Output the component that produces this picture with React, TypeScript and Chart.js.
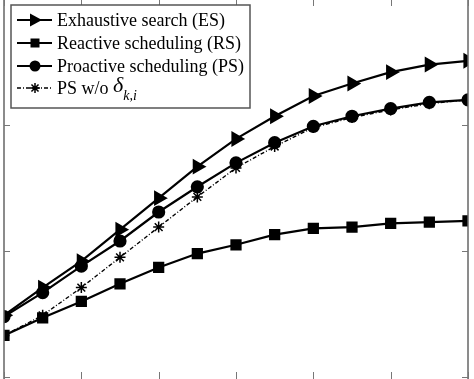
import React, { useEffect, useRef } from "react";
import { Chart, registerables } from "chart.js";

Chart.register(...registerables);

const xValues = [0, 1, 2, 3, 4, 5, 6, 7, 8, 9, 10, 11, 12];
const xTickValues = [0, 2, 4, 6, 8, 10, 12];
const yTickValues = [0, 1, 2, 3];

const esValues = [0.49, 0.71, 0.92, 1.17, 1.42, 1.67, 1.89, 2.07, 2.23, 2.33, 2.42, 2.48, 2.51];
const rsValues = [0.33, 0.47, 0.6, 0.74, 0.87, 0.98, 1.05, 1.13, 1.18, 1.19, 1.22, 1.23, 1.24];
const psValues = [0.48, 0.67, 0.88, 1.08, 1.31, 1.51, 1.7, 1.86, 1.99, 2.07, 2.13, 2.18, 2.2];
const psNoDeltaValues = [0.33, 0.49, 0.71, 0.95, 1.19, 1.43, 1.66, 1.83, 1.98, 2.06, 2.12, 2.17, 2.2];

const legendLabels = [
  "Exhaustive search (ES)",
  "Reactive scheduling (RS)",
  "Proactive scheduling (PS)",
  "PS w/o ",
];

const FONT = '"Liberation Serif", "Times New Roman", serif';

function drawMarker(ctx: CanvasRenderingContext2D, kind: string, x: number, y: number) {
  ctx.save();
  ctx.fillStyle = "#000";
  ctx.strokeStyle = "#000";
  ctx.beginPath();
  if (kind === "tri") {
    ctx.moveTo(x + 7, y);
    ctx.lineTo(x - 5, y - 6.5);
    ctx.lineTo(x - 5, y + 6.5);
    ctx.closePath();
    ctx.fill();
  } else if (kind === "sq") {
    ctx.rect(x - 4.5, y - 4.5, 9, 9);
    ctx.fill();
  } else if (kind === "circ") {
    ctx.arc(x, y, 5.5, 0, Math.PI * 2);
    ctx.fill();
  } else {
    ctx.lineWidth = 1.5;
    for (let i = 0; i < 4; i++) {
      const a = (i * Math.PI) / 4;
      ctx.moveTo(x - 5 * Math.cos(a), y - 5 * Math.sin(a));
      ctx.lineTo(x + 5 * Math.cos(a), y + 5 * Math.sin(a));
    }
    ctx.stroke();
  }
  ctx.restore();
}

const framePlugin = {
  id: "frame",
  afterDraw(chart: any) {
    const { ctx, chartArea } = chart;
    const xs = chart.scales.x;
    const ys = chart.scales.y;
    ctx.save();
    ctx.strokeStyle = "#666";
    ctx.lineWidth = 1.5;
    ctx.strokeRect(chartArea.left, chartArea.top, chartArea.right - chartArea.left, chartArea.bottom - chartArea.top);
    ctx.lineWidth = 1;
    ctx.strokeStyle = "#777";
    ctx.beginPath();
    for (const v of xTickValues) {
      const px = Math.round(xs.getPixelForValue(v)) + 0.5;
      ctx.moveTo(px, chartArea.bottom);
      ctx.lineTo(px, chartArea.bottom - 12);
      ctx.moveTo(px, chartArea.top);
      ctx.lineTo(px, chartArea.top + 12);
    }
    for (const v of yTickValues) {
      const py = Math.round(ys.getPixelForValue(v)) + 0.5;
      ctx.moveTo(chartArea.left, py);
      ctx.lineTo(chartArea.left + 6, py);
      ctx.moveTo(chartArea.right, py);
      ctx.lineTo(chartArea.right - 6, py);
    }
    ctx.stroke();

    // legend
    const bx = 11, by = 11, bw = 239, bh = 103;
    ctx.fillStyle = "#fff";
    ctx.fillRect(bx, by, bw, bh);
    ctx.strokeStyle = "#555";
    ctx.lineWidth = 1.5;
    ctx.strokeRect(bx, by, bw, bh);
    const kinds = ["tri", "sq", "circ", "star"];
    const rows = [26, 49, 72, 94];
    for (let i = 0; i < 4; i++) {
      const ry = rows[i];
      ctx.save();
      ctx.strokeStyle = "#000";
      ctx.lineWidth = i === 3 ? 1.3 : 2;
      if (i === 3) ctx.setLineDash([4, 2, 1, 2]);
      ctx.beginPath();
      ctx.moveTo(17, ry);
      ctx.lineTo(52, ry);
      ctx.stroke();
      ctx.restore();
      drawMarker(ctx, kinds[i], 35, ry);
      ctx.fillStyle = "#000";
      ctx.textBaseline = "middle";
      ctx.font = `18px ${FONT}`;
      ctx.fillText(legendLabels[i], 57, ry + 1);
      if (i === 3) {
        const w = ctx.measureText(legendLabels[i]).width;
        ctx.font = `italic 22px ${FONT}`;
        ctx.fillText("\u03B4", 57 + w, ry - 2);
        const dw = ctx.measureText("\u03B4").width;
        ctx.font = `italic 14px ${FONT}`;
        ctx.fillText("k,i", 57 + w + dw, ry + 8);
      }
    }
    ctx.restore();
  },
};

function makeData(vals: number[]) {
  return xValues.map((x, i) => ({ x, y: vals[i] }));
}

export default function App() {
  const ref = useRef<HTMLCanvasElement | null>(null);
  useEffect(() => {
    document.documentElement.style.overflow = "hidden";
    document.body.style.overflow = "hidden";
    const chart = new Chart(ref.current as HTMLCanvasElement, {
      type: "line",
      data: {
        datasets: [
          {
            label: legendLabels[2],
            data: makeData(psValues),
            borderColor: "#000",
            backgroundColor: "#000",
            borderWidth: 2.2,
            pointStyle: "circle",
            pointRadius: 5.5,
          },
          {
            label: "PS w/o δk,i",
            data: makeData(psNoDeltaValues),
            borderColor: "#000",
            backgroundColor: "#000",
            borderWidth: 1.4,
            borderDash: [4, 2, 1, 2],
            pointStyle: "star",
            pointRadius: 5.5,
            pointBorderWidth: 1.5,
          },
          {
            label: legendLabels[0],
            data: makeData(esValues),
            borderColor: "#000",
            backgroundColor: "#000",
            borderWidth: 2.2,
            pointStyle: "triangle",
            pointRotation: 90,
            pointRadius: 7,
          },
          {
            label: legendLabels[1],
            data: makeData(rsValues),
            borderColor: "#000",
            backgroundColor: "#000",
            borderWidth: 2.2,
            pointStyle: "rect",
            pointRadius: 6.4,
          },
        ],
      },
      options: {
        animation: false,
        responsive: true,
        maintainAspectRatio: false,
        layout: { autoPadding: false, padding: { left: 4, right: 6, top: 0, bottom: 2 } },
        plugins: { legend: { display: false }, tooltip: { enabled: false } },
        scales: {
          x: {
            type: "linear",
            display: false,
            min: 0,
            max: 12,
          },
          y: {
            type: "linear",
            display: false,
            min: -0.055,
            max: 3.04,
          },
        },
      },
      plugins: [framePlugin],
    });
    return () => chart.destroy();
  }, []);
  return (
    <div style={{ position: "fixed", left: 0, top: -6, width: 474, height: 392, background: "#fff" }}>
      <canvas ref={ref} />
    </div>
  );
}
